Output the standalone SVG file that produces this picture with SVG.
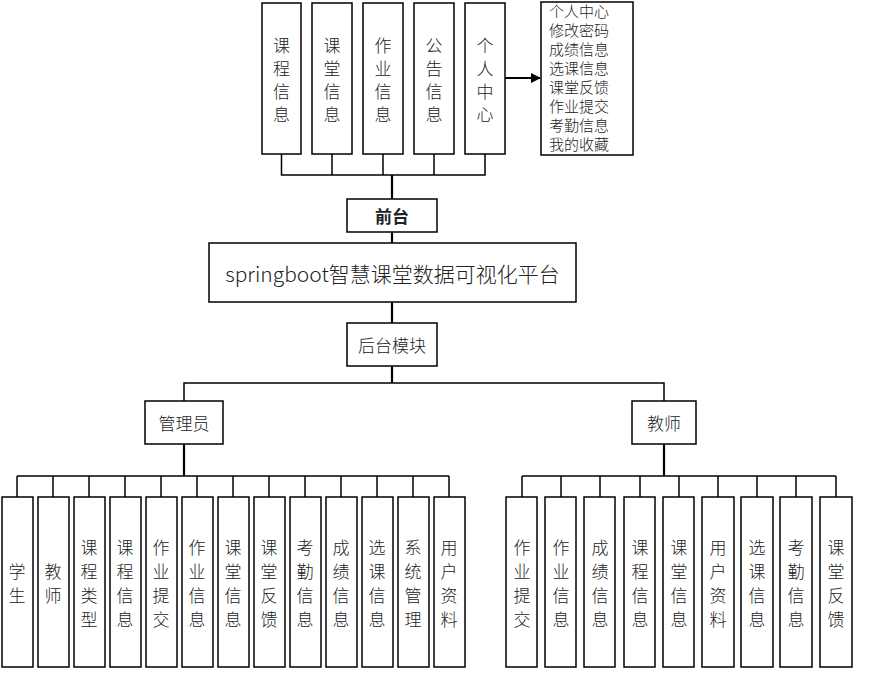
<svg xmlns="http://www.w3.org/2000/svg" width="879" height="675" viewBox="0 0 879 675">
<style>
rect{fill:#fff;stroke:#000;stroke-width:1.5}
text{font-family:"Noto Sans CJK SC","Liberation Sans",sans-serif;font-size:17px;fill:#222;text-anchor:middle;dominant-baseline:central;font-weight:300}
.c line,.c polyline{stroke:#000;stroke-width:1.5;fill:none}
.c .t{stroke-width:2.2}
.l{text-anchor:start;font-size:15px}
</style>
<defs><marker id="a" markerWidth="10" markerHeight="10" refX="9" refY="5" orient="auto" markerUnits="userSpaceOnUse"><path d="M0,0L10,5L0,10z"/></marker></defs>
<rect x="0" y="0" width="879" height="675" style="stroke:none"/>
<g class="c">
<polyline points="281.5,154 281.5,175 485,175 485,154"/>
<line x1="332" y1="154" x2="332" y2="175"/><line x1="383" y1="154" x2="383" y2="175"/><line x1="434" y1="154" x2="434" y2="175"/>
<line class="t" x1="392" y1="175" x2="392" y2="199"/>
<line class="t" x1="392" y1="232" x2="392" y2="243"/>
<line class="t" x1="392" y1="302" x2="392" y2="323"/>
<line class="t" x1="392" y1="366" x2="392" y2="383"/>
<polyline points="184,401 184,383 664,383 664,401"/>
<line class="t" x1="505" y1="78" x2="540" y2="78" marker-end="url(#a)"/>
<line class="t" x1="184" y1="444" x2="184" y2="476"/>
<line x1="17" y1="476" x2="449" y2="476"/>
<line class="t" x1="664" y1="444" x2="664" y2="476"/>
<line x1="522" y1="476" x2="836" y2="476"/>
<line x1="17" y1="476" x2="17" y2="497"/><line x1="53" y1="476" x2="53" y2="497"/><line x1="89" y1="476" x2="89" y2="497"/><line x1="125" y1="476" x2="125" y2="497"/><line x1="161" y1="476" x2="161" y2="497"/><line x1="197" y1="476" x2="197" y2="497"/><line x1="233" y1="476" x2="233" y2="497"/><line x1="269" y1="476" x2="269" y2="497"/><line x1="305" y1="476" x2="305" y2="497"/><line x1="341" y1="476" x2="341" y2="497"/><line x1="377" y1="476" x2="377" y2="497"/><line x1="413" y1="476" x2="413" y2="497"/><line x1="449" y1="476" x2="449" y2="497"/>
<line x1="522" y1="476" x2="522" y2="497"/><line x1="561" y1="476" x2="561" y2="497"/><line x1="600" y1="476" x2="600" y2="497"/><line x1="640" y1="476" x2="640" y2="497"/><line x1="679" y1="476" x2="679" y2="497"/><line x1="718" y1="476" x2="718" y2="497"/><line x1="757" y1="476" x2="757" y2="497"/><line x1="796" y1="476" x2="796" y2="497"/><line x1="836" y1="476" x2="836" y2="497"/>
</g>
<g id="t1"><rect x="262" y="3" width="39" height="151"/><text x="281.5" y="44">课</text><text x="281.5" y="67">程</text><text x="281.5" y="90">信</text><text x="281.5" y="113">息</text></g>
<g id="t2"><rect x="312" y="3" width="40" height="151"/><text x="332" y="44">课</text><text x="332" y="67">堂</text><text x="332" y="90">信</text><text x="332" y="113">息</text></g>
<g id="t3"><rect x="363" y="3" width="40" height="151"/><text x="383" y="44">作</text><text x="383" y="67">业</text><text x="383" y="90">信</text><text x="383" y="113">息</text></g>
<g id="t4"><rect x="414" y="3" width="40" height="151"/><text x="434" y="44">公</text><text x="434" y="67">告</text><text x="434" y="90">信</text><text x="434" y="113">息</text></g>
<g id="t5"><rect x="465" y="3" width="40" height="151"/><text x="485" y="44">个</text><text x="485" y="67">人</text><text x="485" y="90">中</text><text x="485" y="113">心</text></g>
<g id="list"><rect x="541" y="2" width="92" height="153"/>
<text class="l" x="549" y="10">个人中心</text><text class="l" x="549" y="29">修改密码</text><text class="l" x="549" y="48">成绩信息</text><text class="l" x="549" y="67">选课信息</text><text class="l" x="549" y="86">课堂反馈</text><text class="l" x="549" y="105">作业提交</text><text class="l" x="549" y="124">考勤信息</text><text class="l" x="549" y="143">我的收藏</text></g>
<g id="front"><rect x="347" y="199" width="90" height="33"/><text x="392" y="215.5" style="font-weight:bold">前台</text></g>
<g id="main"><rect x="209" y="243" width="367" height="59"/><text x="392.5" y="272.5" style="font-size:21px">springboot智慧课堂数据可视化平台</text></g>
<g id="back"><rect x="347" y="323" width="90" height="43"/><text x="392" y="344.5">后台模块</text></g>
<g id="admin"><rect x="145" y="401" width="78" height="43"/><text x="184" y="422.5">管理员</text></g>
<g id="teacher"><rect x="632" y="401" width="64" height="43"/><text x="664" y="422.5">教师</text></g>
<g id="a1"><rect x="2" y="497" width="31" height="170"/><text x="17" y="570">学</text><text x="17" y="594">生</text></g>
<g id="a2"><rect x="38" y="497" width="31" height="170"/><text x="53" y="570">教</text><text x="53" y="594">师</text></g>
<g id="a3"><rect x="74" y="497" width="31" height="170"/><text x="89" y="546">课</text><text x="89" y="570">程</text><text x="89" y="594">类</text><text x="89" y="618">型</text></g>
<g id="a4"><rect x="110" y="497" width="31" height="170"/><text x="125" y="546">课</text><text x="125" y="570">程</text><text x="125" y="594">信</text><text x="125" y="618">息</text></g>
<g id="a5"><rect x="146" y="497" width="31" height="170"/><text x="161" y="546">作</text><text x="161" y="570">业</text><text x="161" y="594">提</text><text x="161" y="618">交</text></g>
<g id="a6"><rect x="182" y="497" width="31" height="170"/><text x="197" y="546">作</text><text x="197" y="570">业</text><text x="197" y="594">信</text><text x="197" y="618">息</text></g>
<g id="a7"><rect x="218" y="497" width="31" height="170"/><text x="233" y="546">课</text><text x="233" y="570">堂</text><text x="233" y="594">信</text><text x="233" y="618">息</text></g>
<g id="a8"><rect x="254" y="497" width="31" height="170"/><text x="269" y="546">课</text><text x="269" y="570">堂</text><text x="269" y="594">反</text><text x="269" y="618">馈</text></g>
<g id="a9"><rect x="290" y="497" width="31" height="170"/><text x="305" y="546">考</text><text x="305" y="570">勤</text><text x="305" y="594">信</text><text x="305" y="618">息</text></g>
<g id="a10"><rect x="326" y="497" width="31" height="170"/><text x="341" y="546">成</text><text x="341" y="570">绩</text><text x="341" y="594">信</text><text x="341" y="618">息</text></g>
<g id="a11"><rect x="362" y="497" width="31" height="170"/><text x="377" y="546">选</text><text x="377" y="570">课</text><text x="377" y="594">信</text><text x="377" y="618">息</text></g>
<g id="a12"><rect x="398" y="497" width="31" height="170"/><text x="413" y="546">系</text><text x="413" y="570">统</text><text x="413" y="594">管</text><text x="413" y="618">理</text></g>
<g id="a13"><rect x="434" y="497" width="31" height="170"/><text x="449" y="546">用</text><text x="449" y="570">户</text><text x="449" y="594">资</text><text x="449" y="618">料</text></g>
<g id="b1"><rect x="506" y="497" width="31" height="170"/><text x="522" y="546">作</text><text x="522" y="570">业</text><text x="522" y="594">提</text><text x="522" y="618">交</text></g>
<g id="b2"><rect x="545" y="497" width="31" height="170"/><text x="561" y="546">作</text><text x="561" y="570">业</text><text x="561" y="594">信</text><text x="561" y="618">息</text></g>
<g id="b3"><rect x="584" y="497" width="31" height="170"/><text x="600" y="546">成</text><text x="600" y="570">绩</text><text x="600" y="594">信</text><text x="600" y="618">息</text></g>
<g id="b4"><rect x="624" y="497" width="31" height="170"/><text x="640" y="546">课</text><text x="640" y="570">程</text><text x="640" y="594">信</text><text x="640" y="618">息</text></g>
<g id="b5"><rect x="663" y="497" width="31" height="170"/><text x="679" y="546">课</text><text x="679" y="570">堂</text><text x="679" y="594">信</text><text x="679" y="618">息</text></g>
<g id="b6"><rect x="702" y="497" width="32" height="170"/><text x="718" y="546">用</text><text x="718" y="570">户</text><text x="718" y="594">资</text><text x="718" y="618">料</text></g>
<g id="b7"><rect x="741" y="497" width="32" height="170"/><text x="757" y="546">选</text><text x="757" y="570">课</text><text x="757" y="594">信</text><text x="757" y="618">息</text></g>
<g id="b8"><rect x="780" y="497" width="32" height="170"/><text x="796" y="546">考</text><text x="796" y="570">勤</text><text x="796" y="594">信</text><text x="796" y="618">息</text></g>
<g id="b9"><rect x="820" y="497" width="32" height="170"/><text x="836" y="546">课</text><text x="836" y="570">堂</text><text x="836" y="594">反</text><text x="836" y="618">馈</text></g>
</svg>
